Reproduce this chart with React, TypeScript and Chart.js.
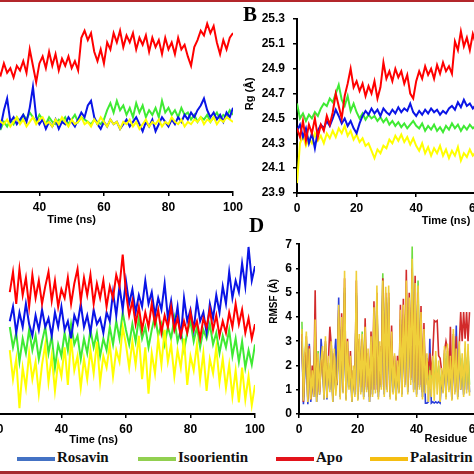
import { useEffect, useRef } from "react";
import { Chart, ChartConfiguration, registerables } from "chart.js";

Chart.register(...registerables);

// ---- data ----

// panel A and C: time axis from 24 ns to 100 ns (1 ns steps), left part is cut off in the figure
const timeAC = Array.from({ length: 77 }, (_, i) => 24 + i);
// panel B: 0 to 60 ns
const timeB = Array.from({ length: 61 }, (_, i) => i);

const redA = [2.55, 2.7, 2.45, 2.6, 2.5, 2.75, 2.55, 2.65, 2.45, 2.7,
  2.6, 2.8, 2.55, 3.05, 2.7, 2.35, 2.75, 2.9, 2.65, 3.0,
  2.7, 2.95, 2.6, 2.85, 2.7, 2.9, 2.65, 2.8, 2.6, 3.3,
  3.45, 3.25, 3.4, 3.0, 2.8, 3.05, 2.75, 3.2, 3.05, 3.4,
  3.2, 3.45, 3.1, 3.35, 3.2, 3.4, 3.05, 3.3, 3.15, 3.35,
  3.0, 3.3, 3.1, 3.25, 2.95, 3.3, 3.05, 3.2, 2.95, 3.3,
  3.05, 3.15, 2.9, 2.7, 3.1, 3.25, 3.45, 3.35, 3.6, 3.4,
  3.55, 3.2, 2.95, 3.25, 3.05, 3.3, 3.4];
const blueA = [1.55, 1.7, 1.45, 1.6, 1.4, 1.75, 2.0, 1.5, 1.6, 1.45,
  1.55, 1.65, 1.5, 1.8, 2.25, 1.6, 1.45, 1.55, 1.35, 1.5,
  1.4, 1.55, 1.35, 1.5, 1.45, 1.6, 1.5, 1.4, 1.55, 1.7,
  1.6, 1.85, 1.95, 1.6, 1.45, 1.35, 1.5, 1.4, 1.55, 1.45,
  1.5, 1.35, 1.45, 1.55, 1.4, 1.5, 1.6, 1.45, 1.3, 1.5,
  1.4, 1.55, 1.3, 1.45, 1.6, 1.5, 1.4, 1.55, 1.45, 1.6,
  1.5, 1.65, 1.55, 1.7, 1.6, 1.75, 1.85, 2.0, 1.75, 1.6,
  1.7, 1.55, 1.65, 1.5, 1.7, 1.6, 1.8];
const greenA = [1.35, 1.45, 1.3, 1.4, 1.35, 1.5, 1.4, 1.55, 1.45, 1.6,
  1.5, 1.65, 1.55, 1.7, 1.6, 1.5, 1.65, 1.55, 1.45, 1.6,
  1.5, 1.45, 1.55, 1.5, 1.6, 1.45, 1.55, 1.65, 1.5, 1.6,
  1.55, 1.5, 1.45, 1.55, 1.5, 1.45, 1.55, 1.75, 1.9, 1.7,
  1.95, 1.75, 1.85, 1.65, 1.8, 1.6, 1.9, 1.7, 1.85, 1.6,
  1.75, 1.65, 1.8, 1.6, 1.95, 1.7, 1.8, 1.65, 1.75, 1.6,
  1.8, 1.65, 1.7, 1.55, 1.65, 1.5, 1.6, 1.55, 1.65, 1.5,
  1.6, 1.7, 1.55, 1.65, 1.6, 1.75, 1.65];
const yellowA = [1.45, 1.55, 1.4, 1.6, 1.5, 1.45, 1.55, 1.4, 1.5, 1.6,
  1.45, 1.55, 1.4, 1.5, 1.6, 1.45, 1.55, 1.6, 1.45, 1.5,
  1.4, 1.55, 1.45, 1.6, 1.5, 1.4, 1.55, 1.45, 1.5, 1.6,
  1.45, 1.5, 1.4, 1.55, 1.45, 1.6, 1.5, 1.4, 1.55, 1.45,
  1.5, 1.35, 1.5, 1.45, 1.55, 1.4, 1.5, 1.35, 1.45, 1.55,
  1.4, 1.5, 1.45, 1.55, 1.4, 1.5, 1.45, 1.6, 1.5, 1.45,
  1.55, 1.4, 1.5, 1.45, 1.55, 1.5, 1.6, 1.45, 1.55, 1.5,
  1.6, 1.45, 1.55, 1.5, 1.6, 1.55, 1.5];

const rgTicks = [23.9, 24.1, 24.3, 24.5, 24.7, 24.9, 25.1, 25.3];
const redB = [24.42, 24.35, 24.48, 24.32, 24.45, 24.38, 24.5, 24.35, 24.45, 24.4,
  24.52, 24.45, 24.55, 24.7, 24.6, 24.5, 24.68, 24.78, 24.9, 24.75,
  24.8, 24.72, 24.78, 24.68, 24.76, 24.7, 24.8, 24.66, 24.75, 24.95,
  24.82, 24.88, 24.8, 24.9, 24.83, 24.88, 24.78, 24.85, 24.7, 24.66,
  24.8, 24.88, 24.82, 24.92, 24.85, 24.9, 24.82, 24.93, 24.86, 24.95,
  24.88, 24.92, 24.86, 25.12, 25.05, 25.2, 25.08, 25.15, 25.05, 25.18,
  25.1];
const blueB = [24.4, 24.45, 24.35, 24.42, 24.3, 24.38, 24.26, 24.4, 24.45, 24.42,
  24.48, 24.44, 24.5, 24.57, 24.52, 24.46, 24.5, 24.44, 24.48, 24.42,
  24.38, 24.46, 24.52, 24.56, 24.53, 24.58, 24.54, 24.57, 24.52, 24.58,
  24.55, 24.53, 24.57, 24.54, 24.59, 24.55, 24.58, 24.56, 24.62, 24.55,
  24.52, 24.56, 24.53, 24.57, 24.54, 24.58, 24.55, 24.57, 24.53, 24.56,
  24.54, 24.58, 24.6, 24.57, 24.63, 24.59, 24.65, 24.6, 24.62, 24.58,
  24.61];
const greenB = [24.62, 24.5, 24.54, 24.48, 24.53, 24.5, 24.55, 24.52, 24.58, 24.62,
  24.6, 24.66, 24.63, 24.7, 24.77, 24.65, 24.6, 24.68, 24.56, 24.62,
  24.55, 24.5, 24.54, 24.49, 24.53, 24.5, 24.52, 24.48, 24.51, 24.47,
  24.5, 24.45, 24.48, 24.44, 24.47, 24.43, 24.46, 24.42, 24.45, 24.48,
  24.44, 24.42, 24.46, 24.4, 24.44, 24.41, 24.45, 24.4, 24.43, 24.39,
  24.44, 24.41, 24.46, 24.42, 24.45, 24.4, 24.44, 24.41, 24.45, 24.42,
  24.44];
const yellowB = [23.98, 24.3, 24.36, 24.28, 24.34, 24.3, 24.38, 24.32, 24.36, 24.3,
  24.38, 24.34, 24.4, 24.35, 24.42, 24.38, 24.44, 24.36, 24.4, 24.33,
  24.37, 24.31, 24.34, 24.28, 24.3, 24.24, 24.18, 24.25, 24.22, 24.28,
  24.26, 24.33, 24.3, 24.36, 24.32, 24.37, 24.31, 24.35, 24.29, 24.34,
  24.28, 24.24, 24.3, 24.22, 24.27, 24.2, 24.26, 24.22, 24.28, 24.2,
  24.25, 24.18, 24.24, 24.2, 24.27, 24.16, 24.22, 24.19, 24.25, 24.2,
  24.23];

const redC = [2.1, 2.45, 1.9, 2.5, 2.05, 2.35, 1.85, 2.4, 2.0, 2.3,
  1.9, 2.2, 2.45, 1.95, 2.3, 1.85, 2.15, 2.0, 2.35, 1.9,
  2.25, 2.5, 1.95, 2.35, 2.05, 2.4, 1.9, 2.25, 2.0, 2.3,
  1.85, 2.2, 2.0, 2.4, 2.2, 2.75, 2.1, 1.7, 1.95, 1.55,
  1.85, 1.45, 1.75, 1.5, 1.9, 1.55, 1.8, 1.4, 1.7, 1.5,
  1.85, 1.45, 1.65, 1.35, 1.6, 1.4, 1.75, 1.45, 1.6, 1.3,
  1.65, 1.5, 1.8, 1.45, 1.7, 1.35, 1.6, 1.4, 1.75, 1.5,
  1.9, 1.55, 1.8, 1.4, 1.65, 1.3, 1.55];
const blueC = [1.6, 1.85, 1.4, 1.75, 1.5, 1.9, 1.55, 1.35, 1.7, 1.45,
  1.8, 1.5, 1.65, 1.35, 1.75, 1.5, 1.85, 1.45, 1.6, 1.3,
  1.7, 1.55, 1.9, 1.5, 1.7, 1.4, 1.8, 1.55, 1.65, 1.4,
  1.75, 1.6, 2.1, 1.7, 2.2, 1.8, 2.3, 1.9, 2.15, 1.75,
  2.05, 1.85, 2.3, 1.9, 2.1, 1.7, 2.0, 1.8, 2.25, 1.65,
  1.95, 1.5, 1.85, 1.3, 2.0, 1.6, 1.8, 1.45, 1.95, 1.6,
  1.75, 1.4, 1.9, 1.65, 2.05, 1.75, 2.2, 1.9, 2.45, 2.0,
  2.3, 2.1, 2.6, 2.2, 2.88, 2.3, 2.55];
const greenC = [1.5, 1.15, 1.4, 0.9, 1.3, 1.05, 1.45, 1.1, 1.35, 0.95,
  1.25, 1.5, 1.05, 1.35, 0.8, 1.2, 1.0, 1.4, 1.1, 1.55,
  1.2, 1.35, 0.95, 1.3, 1.05, 1.45, 1.15, 1.4, 1.0, 1.3,
  1.1, 1.5, 1.2, 1.6, 1.3, 1.75, 1.45, 1.2, 1.55, 1.25,
  1.65, 1.3, 1.5, 1.15, 1.45, 1.7, 1.35, 1.55, 1.2, 1.5,
  1.3, 1.65, 1.25, 1.45, 1.1, 1.4, 1.6, 1.25, 1.5, 1.15,
  1.45, 1.3, 1.55, 1.2, 1.4, 1.05, 1.35, 1.15, 1.45, 1.0,
  1.3, 0.9, 1.25, 0.8, 1.1, 0.85, 1.2];
const yellowC = [1.1, 0.6, 0.95, 0.1, 0.8, 0.45, 1.05, 0.6, 0.9, 0.35,
  0.85, 1.2, 0.55, 1.0, 0.4, 0.9, 0.65, 1.15, 0.5, 1.3,
  0.75, 1.0, 0.45, 0.95, 0.6, 1.1, 0.7, 1.25, 0.55, 1.0,
  0.8, 1.2, 0.65, 1.1, 0.9, 1.5, 1.2, 0.8, 1.25, 0.85,
  1.35, 0.6, 1.15, 0.35, 1.05, 0.7, 1.3, 0.85, 1.45, 0.9,
  1.2, 0.65, 1.1, 0.8, 1.3, 0.5, 1.0, 0.75, 1.2, 0.6,
  1.05, 0.4, 0.95, 0.7, 1.15, 0.55, 0.95, 0.45, 0.85, 0.3,
  0.75, 0.2, 0.8, 0.25, 0.65, 0.15, 0.5];

// panel D: residues 1 .. 58 in half steps
const residues = Array.from({ length: 115 }, (_, i) => 1 + i * 0.5);
const yellowD = [3.5, 0.55, 2.4, 3.4, 0.5, 2.7, 0.6, 1.8, 0.7, 3.9,
  0.5, 2.5, 0.8, 2.2, 2.8, 0.6, 3.2, 0.65, 2.4, 0.9,
  3.0, 0.5, 2.7, 0.75, 1.5, 4.5, 0.6, 4.0, 0.85, 5.9,
  0.55, 3.0, 1.0, 2.4, 0.5, 2.0, 0.7, 5.9, 0.55, 3.3,
  0.8, 3.3, 0.6, 3.6, 0.9, 2.7, 0.5, 3.2, 0.7, 4.4,
  0.85, 5.3, 0.6, 3.0, 1.0, 5.5, 0.7, 5.25, 0.9, 5.3,
  0.6, 3.4, 0.8, 2.5, 0.55, 2.2, 0.85, 4.3, 0.7, 4.5,
  1.1, 5.5, 0.8, 4.8, 1.2, 6.4, 0.9, 5.4, 0.7, 5.3,
  1.0, 4.2, 0.6, 3.5, 0.85, 2.5, 0.5, 1.8, 0.7, 2.4,
  0.55, 2.6, 0.8, 2.2, 0.5, 1.9, 0.85, 2.8, 0.6, 2.9,
  0.9, 2.4, 0.55, 3.5, 0.8, 2.7, 0.6, 3.0, 1.0, 2.5,
  0.7, 3.0, 0.85, 2.9, 0.75];
const redD = [3.3, 0.5, 2.2, 3.2, 0.6, 2.8, 0.6, 2.0, 0.8, 5.1,
  0.7, 2.3, 0.9, 2.0, 2.6, 0.8, 3.0, 0.7, 2.2, 3.6,
  2.8, 0.7, 2.5, 1.0, 1.4, 4.3, 0.9, 4.15, 1.0, 5.6,
  0.8, 3.1, 1.2, 2.6, 0.7, 1.8, 1.0, 5.5, 0.8, 3.1,
  1.1, 3.1, 0.9, 3.95, 1.1, 2.5, 0.7, 3.4, 1.0, 4.65,
  1.0, 5.0, 0.9, 2.8, 1.2, 5.6, 1.0, 5.0, 1.1, 5.0,
  0.9, 3.65, 1.1, 2.4, 0.8, 2.4, 1.0, 4.5, 1.0, 4.75,
  1.3, 5.95, 1.1, 5.0, 1.5, 6.0, 1.3, 5.7, 1.0, 5.0,
  1.2, 4.45, 0.9, 3.75, 1.2, 2.3, 1.8, 2.5, 1.6, 2.5,
  3.85, 3.8, 3.85, 2.4, 2.3, 1.8, 1.0, 2.6, 3.0, 2.7,
  1.1, 3.6, 0.8, 3.3, 1.1, 3.2, 0.9, 2.8, 4.2, 3.0,
  4.2, 3.1, 4.2, 3.0, 4.2];
const greenD = [3.8, 0.7, 2.0, 3.0, 0.6, 2.4, 0.8, 1.6, 1.0, 3.5,
  0.7, 2.6, 1.1, 2.0, 2.5, 0.8, 2.9, 0.9, 2.1, 1.3,
  2.7, 0.7, 2.4, 1.0, 1.6, 4.0, 0.9, 3.6, 1.2, 5.2,
  0.8, 2.7, 1.4, 2.1, 0.7, 1.8, 1.0, 5.0, 0.8, 3.0,
  1.1, 3.4, 0.9, 3.2, 1.3, 2.4, 0.7, 2.9, 1.0, 4.0,
  1.2, 4.8, 0.9, 2.7, 1.4, 5.8, 1.0, 4.8, 1.3, 4.8,
  0.9, 3.0, 1.1, 2.2, 0.8, 2.0, 1.2, 3.9, 1.0, 4.1,
  1.5, 5.0, 1.1, 4.4, 1.7, 6.9, 1.3, 5.0, 1.0, 5.5,
  1.4, 3.8, 0.9, 3.2, 1.2, 2.3, 1.5, 2.0, 1.2, 2.2,
  1.0, 2.3, 1.3, 2.0, 1.0, 1.7, 1.3, 2.5, 1.0, 2.6,
  1.4, 2.2, 0.9, 3.2, 1.2, 2.4, 1.0, 2.7, 1.5, 2.3,
  1.1, 2.7, 1.3, 2.6, 1.2];
const blueD = [3.0, 0.4, 1.8, 2.8, 0.4, 2.9, 0.5, 1.5, 0.7, 3.3,
  0.5, 2.2, 0.8, 3.1, 2.3, 0.6, 2.7, 0.6, 2.0, 1.0,
  2.6, 0.5, 2.2, 3.1, 1.2, 4.8, 0.7, 3.5, 0.9, 5.0,
  0.6, 2.6, 1.1, 2.0, 0.5, 1.7, 0.8, 4.9, 0.6, 2.8,
  0.9, 2.9, 0.7, 3.0, 1.0, 2.3, 0.5, 2.8, 0.8, 3.8,
  1.0, 4.6, 0.7, 2.6, 1.1, 4.9, 0.8, 4.6, 1.0, 4.6,
  0.7, 2.9, 0.9, 2.1, 0.6, 1.9, 0.9, 3.7, 0.8, 3.9,
  1.2, 4.8, 0.9, 4.2, 1.4, 5.6, 1.0, 4.8, 0.8, 4.6,
  1.1, 3.6, 0.7, 3.0, 0.45, 0.45, 0.5, 3.1, 0.45, 0.5,
  0.45, 0.5, 0.45, 0.5, 0.45, 1.5, 0.9, 2.3, 0.7, 2.4,
  1.0, 2.0, 0.6, 2.9, 0.9, 3.65, 0.7, 2.5, 1.0, 2.1,
  0.8, 2.5, 1.0, 2.4, 0.9];

const legendItems = [
  { label: "Rosavin", color: "#4472C4" },
  { label: "Isoorientin", color: "#92D050" },
  { label: "Apo", color: "#E3131B" },
  { label: "Palasitrin", color: "#F5BE12" },
];

// ---- styling helpers ----

const sans = "'Liberation Sans', Arial, sans-serif";
const serif = "'Liberation Serif', 'Times New Roman', serif";
const tickFont = { family: sans, size: 12, weight: "bold" as const };

const pts = (xs: number[], ys: number[]) => ys.map((y, i) => ({ x: xs[i], y }));

function line(xs: number[], ys: number[], color: string, width = 2) {
  return { data: pts(xs, ys), borderColor: color, borderWidth: width, pointRadius: 0, tension: 0, fill: false };
}

function xAxis(title: string, height: number, tickPad: number) {
  return {
    type: "linear" as const,
    min: 0,
    max: 100,
    ticks: { stepSize: 20, color: "#000", font: tickFont, padding: tickPad, maxRotation: 0, autoSkip: false },
    grid: { drawOnChartArea: false, tickLength: 4, color: "#000", lineWidth: 1.5 },
    border: { color: "#000", width: 2 },
    title: { display: true, text: title, color: "#000", font: { family: sans, size: 11, weight: "bold" as const }, padding: 0 },
    afterFit: (scale: any) => {
      scale.height = height;
    },
  };
}

function baseOptions(padding: any, scales: any): any {
  return {
    animation: false,
    responsive: true,
    maintainAspectRatio: false,
    events: [],
    layout: { autoPadding: false, padding },
    plugins: { legend: { display: false }, tooltip: { enabled: false } },
    scales,
  };
}

const configA = (): ChartConfiguration => ({
  type: "line",
  data: {
    datasets: [
      line(timeAC, redA, "#FF0000"),
      line(timeAC, yellowA, "#FFFF00"),
      line(timeAC, blueA, "#0A14E6"),
      line(timeAC, greenA, "#3FEA33"),
    ],
  },
  options: baseOptions({ left: 0, top: 5, right: 15, bottom: 0 }, {
    x: xAxis("Time (ns)", 35, 4),
    y: { display: false, min: 0, max: 4 },
  }),
});

const configB = (): ChartConfiguration => ({
  type: "line",
  data: {
    datasets: [
      line(timeB, redB, "#FF0000"),
      line(timeB, blueB, "#0A14E6"),
      line(timeB, greenB, "#3FEA33"),
      line(timeB, yellowB, "#FFFF00"),
    ],
  },
  options: baseOptions({ left: 0, top: 19, right: 0, bottom: 0 }, {
    x: xAxis("Time (ns)", 35, 4),
    y: {
      min: 23.9,
      max: 25.3,
      afterBuildTicks: (scale: any) => {
        scale.ticks = rgTicks.map((value) => ({ value }));
      },
      ticks: { color: "#000", font: tickFont, padding: 8, callback: (v: any) => Number(v).toFixed(1) },
      grid: { drawOnChartArea: false, tickLength: 4, color: "#000", lineWidth: 1.5 },
      border: { color: "#000", width: 2 },
      title: {
        display: true,
        text: "\u00a0".repeat(8) + "Rg (Å)",
        color: "#000",
        font: { family: sans, size: 11, weight: "bold" as const },
        padding: { top: 6, bottom: 0 },
      },
      afterFit: (scale: any) => {
        scale.width = 60;
      },
    },
  }),
});

const configC = (): ChartConfiguration => ({
  type: "line",
  data: {
    datasets: [
      line(timeAC, redC, "#FF0000"),
      line(timeAC, yellowC, "#FFFF00"),
      line(timeAC, blueC, "#0A14E6"),
      line(timeAC, greenC, "#3FEA33"),
    ],
  },
  options: baseOptions({ left: 0, top: 10, right: 15, bottom: 0 }, {
    x: xAxis("Time (ns)", 33, 4),
    y: { display: false, min: 0, max: 3 },
  }),
});

const configD = (): ChartConfiguration => ({
  type: "line",
  data: {
    datasets: [
      line(residues, yellowD, "#EFCF3A", 1.6),
      line(residues, redD, "#D22B2B", 1.6),
      line(residues, greenD, "#6FDD3F", 1.6),
      line(residues, blueD, "#2C3FD8", 1.6),
    ],
  },
  options: baseOptions({ left: 0, top: 10, right: 0, bottom: 0 }, {
    x: xAxis("Residue", 32, 4),
    y: {
      min: 0,
      max: 7,
      ticks: { stepSize: 1, color: "#000", font: tickFont, padding: 4 },
      grid: { drawOnChartArea: false, tickLength: 3, color: "#000", lineWidth: 1.5 },
      border: { color: "#000", width: 2 },
      title: {
        display: true,
        text: "\u00a0".repeat(20) + "RMSF (Å)",
        color: "#000",
        font: { family: sans, size: 10, weight: "bold" as const },
        padding: { top: 29, bottom: 0 },
      },
      afterFit: (scale: any) => {
        scale.width = 60;
      },
    },
  }),
});

interface PanelProps {
  left: number;
  top: number;
  width: number;
  height: number;
  config: () => ChartConfiguration;
}

function Panel(props: PanelProps) {
  const { left, top, width, height, config } = props;
  const chartRef = useRef<HTMLCanvasElement | null>(null);

  useEffect(() => {
    if (chartRef.current) {
      const chart = new Chart(chartRef.current, config());
      return () => {
        chart.destroy();
      };
    }
  }, [config]);

  return (
    <div style={{ position: "absolute", left, top, width, height }}>
      <canvas ref={chartRef}></canvas>
    </div>
  );
}

const legendLeft = [17, 138, 276, 370];

export default function App() {
  return (
    <div style={{ position: "fixed", left: 0, top: 0, width: 474, height: 474, overflow: "hidden", background: "#fff" }}>
      <div style={{ position: "absolute", left: 0, top: 0, width: 474, height: 2, background: "#B3262B" }}></div>

      <Panel left={-97} top={0} width={345} height={227} config={configA} />
      <Panel left={237} top={0} width={372} height={228} config={configB} />
      <Panel left={-75} top={230} width={345} height={217} config={configC} />
      <Panel left={239} top={233} width={368} height={213} config={configD} />

      <div style={{ position: "absolute", left: 243, top: 4, font: `bold 21px ${serif}`, lineHeight: 1, color: "#000" }}>B</div>
      <div style={{ position: "absolute", left: 249, top: 215, font: `bold 21px ${serif}`, lineHeight: 1, color: "#000" }}>D</div>

      {legendItems.map((item, i) => (
        <div key={item.label}>
          <div
            style={{
              position: "absolute",
              left: legendLeft[i],
              top: 457,
              width: 38,
              height: 4,
              background: item.color,
            }}
          ></div>
          <div
            style={{
              position: "absolute",
              left: legendLeft[i] + 40,
              top: 450,
              font: `bold 15px ${serif}`,
              lineHeight: 1,
              color: "#111",
              whiteSpace: "nowrap",
            }}
          >
            {item.label}
          </div>
        </div>
      ))}

      <div style={{ position: "absolute", left: 0, top: 471, width: 474, height: 3, background: "#A52A2F" }}></div>
    </div>
  );
}
